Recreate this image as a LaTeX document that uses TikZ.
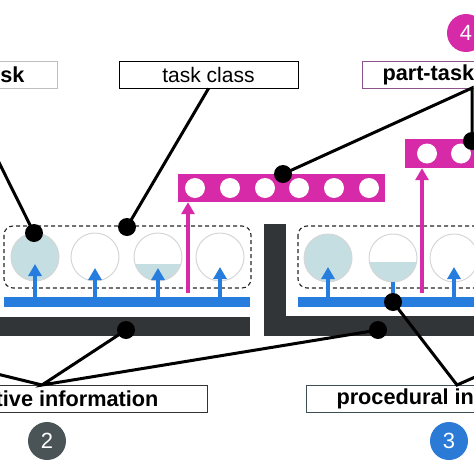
\documentclass[tikz,border=0pt]{standalone}
\usepackage{fontspec}
\setmainfont{Liberation Sans}
\usepackage{xcolor}
\usepackage{tikz}
\usetikzlibrary{arrows.meta, calc, positioning}
\definecolor{ptmag}{RGB}{214,42,168}
\definecolor{infblue}{RGB}{38,125,222}
\definecolor{numblue}{RGB}{42,122,214}
\definecolor{numgray}{RGB}{74,84,86}
\definecolor{bargray}{RGB}{50,53,55}
\definecolor{taskfill}{RGB}{197,222,226}
\definecolor{taskline}{RGB}{214,214,214}
\newcommand{\labfont}{\fontsize{21}{25}\selectfont}
\newcommand{\boldlabfont}{\fontsize{21.7}{25}\selectfont\bfseries}
\newcommand{\numfont}{\fontsize{22}{26}\selectfont}

\begin{document}
\begin{tikzpicture}[x=1pt,y=-1pt,
	lbl/.style={draw, line width=1pt, minimum height=27pt, inner ysep=0pt, font=\boldlabfont},
	dot/.style={circle, fill=black, inner sep=0pt, minimum size=18pt},
	conn/.style={line width=3pt, black},
	task/.style={circle, draw=taskline, line width=1pt, minimum size=48pt, inner sep=0pt},
	grp/.style={draw=black!85, line width=1.1pt, dash pattern=on 4pt off 3pt, rounded corners=9pt},
	barrow/.style={infblue, line width=4.5pt, -{Triangle[width=13pt,length=12pt]}},
	marrow/.style={ptmag, line width=4.5pt, -{Triangle[width=13pt,length=12pt]}},
	numc/.style={circle, inner sep=0pt, minimum size=38pt, text=white, font=\numfont}]
			\useasboundingbox (0,0) rectangle (474,474);
			\clip (0,0) rectangle (474,474);
			% task classes
			\draw[grp] (4,226) rectangle (251,288);
			\draw[grp] (298,226) rectangle (500,288);
			% partly done tasks
			\begin{scope}
			\clip (158,257) circle (24pt);
			\fill[taskfill] (130,264) rectangle (186,285);
			\end{scope}
			\begin{scope}
			\clip (393,258) circle (24pt);
			\fill[taskfill] (365,262) rectangle (421,286);
			\end{scope}
			\node[task, fill=taskfill] (lt1) at (35,257) {};
			\node[task] (lt2) at (95,257) {};
			\node[task] (lt3) at (158,257) {};
			\node[task] (lt4) at (220,257) {};
			\node[task, fill=taskfill] (rt1) at (328,258) {};
			\node[task] (rt2) at (393,258) {};
			\node[task] (rt3) at (454,258) {};
			% procedural information
			\node[fill=infblue, inner sep=0pt, minimum width=246pt, minimum height=10pt] (lbar) at (127,302) {};
			\node[fill=infblue, inner sep=0pt, minimum width=200pt, minimum height=10pt] (rbar) at (398,302) {};
			\draw[barrow] (lt1 |- lbar.north) -- ($(lt1.center)+(0,7)$);
			\draw[barrow] (lt2 |- lbar.north) -- ($(lt2.center)+(0,11)$);
			\draw[barrow] (lt3 |- lbar.north) -- ($(lt3.center)+(0,11)$);
			\draw[barrow] (lt4 |- lbar.north) -- ($(lt4.center)+(0,10)$);
			\draw[barrow] (rt1 |- rbar.north) -- ($(rt1.center)+(0,9)$);
			\draw[infblue, line width=4.5pt] (rt2 |- rbar.north) -- ($(rt2.center)+(0,24)$);
			\draw[barrow] (rt3 |- rbar.north) -- ($(rt3.center)+(0,9)$);
			% part-task practice
			\node[fill=ptmag, inner sep=0pt, minimum width=207pt, minimum height=28pt] (pbar1) at (281.5,188) {};
			\node[fill=ptmag, inner sep=0pt, minimum width=90pt, minimum height=29pt] (pbar2) at (450,153.5) {};
			\foreach \x in {195,230,265,299,334,369}
				\fill[white] (\x,188) circle (10pt);
			\foreach \x in {427,461}
				\fill[white] (\x,153.5) circle (10pt);
			\coordinate (m1) at (188,293);
			\coordinate (m2) at (422,293);
			\draw[marrow] (m1) -- (m1 |- pbar1.south);
			\draw[marrow] (m2) -- (m2 |- pbar2.south);
			% supportive information
			\fill[bargray] (-5,317) rectangle (250,336);
			\fill[bargray] (264,224) rectangle (286,336);
			\fill[bargray] (264,316) rectangle (480,336);
			% labels
			\node[lbl, draw=black!25, anchor=east, inner xsep=33pt] (ltask) at (58,74.5) {sk};
			\node[lbl, font=\labfont, minimum width=179pt] (tclass) at (208.5,74.5) {task class};
			\node[lbl, draw={rgb,255:red,140;green,84;blue,140}, anchor=west, inner xsep=20pt] (ptask) at (362,74.5) {part-task};
			\node[lbl, draw=black!80, anchor=east, inner xsep=49pt] (sinfo) at (208,399) {tive information};
			\node[lbl, draw={rgb,255:red,60;green,80;blue,84}, anchor=west, inner xsep=30pt] (pinfo) at (306,398.5) {procedural in};
			\coordinate (ltaskfoot) at (-38,88);
			\coordinate (ptaskfoot) at (472,88);
			\coordinate (sfoot) at (42,385);
			\coordinate (pfoot) at (457,385);
			% pointers
			\node[dot] (d1) at (34,233) {};
			\node[dot] (d2) at (127,227) {};
			\node[dot] (d3) at (283,174) {};
			\node[dot] (d4) at (472,141) {};
			\node[dot] (d5) at (126,330) {};
			\node[dot] (d6) at (378,330) {};
			\node[dot] (d7) at (393,302) {};
			\draw[conn] (d1.center) -- (ltaskfoot);
			\draw[conn] (d2.center) -- (tclass.south);
			\draw[conn] (d3.center) -- (ptaskfoot) -- (d4.center);
			\draw[conn] (d5.center) -- (sfoot) -- (d6.center);
			\draw[conn] (sfoot) -- (-60,360);
			\draw[conn] (d7.center) -- (pfoot) -- (500,366);
			% numbers
			\node[numc, fill=numgray] (n2) at (47,441) {2};
			\node[numc, fill=numblue] (n3) at (449,441) {3};
			\node[numc, fill=ptmag] (n4) at (466,33) {4};
\end{tikzpicture}
\end{document}
